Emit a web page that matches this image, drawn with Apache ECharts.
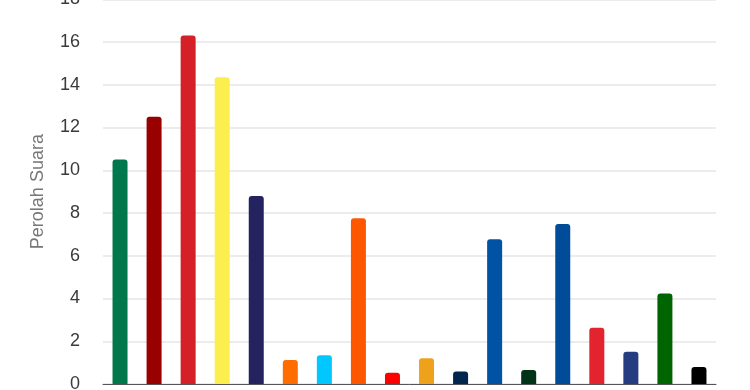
<!DOCTYPE html>
<html>
<head>
<meta charset="utf-8">
<script src="https://cdn.jsdelivr.net/npm/echarts@6/dist/echarts.min.js"></script>
<style>html,body{margin:0;padding:0;background:#fff}#c{width:750px;height:390px}</style>
</head>
<body>
<div id="c"></div>
<script>
var categories = ["P1","P2","P3","P4","P5","P6","P7","P8","P9","P10","P11","P12","P13","P14","P15","P16","P17","P18"];
var values = [10.5, 12.5, 16.3, 14.35, 8.8, 1.12, 1.35, 7.75, 0.53, 1.2, 0.59, 6.77, 0.65, 7.48, 2.63, 1.51, 4.23, 0.8];
var colors = ["#00784b","#990000","#d42128","#fdee50","#25235f","#ff6d00","#00c8ff","#ff5700","#ff0000","#eea21b","#00264d","#0052a5","#003318","#004c99","#e3232e","#253c80","#006400","#000000"];
var yTicks = [0, 18, 2];
var yName = "Perolah Suara";

var chart = echarts.init(document.getElementById('c'), null, {renderer: 'canvas'});
chart.setOption({
  animation: false,
  grid: {left: 103, right: 34, top: -0.75, bottom: 6, containLabel: false, outerBoundsMode: 'none'},
  xAxis: {
    type: 'category',
    data: categories,
    axisLine: {show: true, lineStyle: {color: '#555', width: 1}},
    axisTick: {show: false},
    axisLabel: {show: false}
  },
  yAxis: {
    type: 'value',
    min: yTicks[0], max: yTicks[1], interval: yTicks[2],
    name: yName,
    nameLocation: 'middle',
    nameGap: 56,
    nameTextStyle: {color: '#777', fontSize: 18, fontFamily: 'Liberation Sans, Arial, sans-serif'},
    axisLine: {show: false},
    axisTick: {show: false},
    axisLabel: {color: '#3a3a3a', fontSize: 18, margin: 23, fontFamily: 'Liberation Sans, Arial, sans-serif'},
    splitLine: {lineStyle: {color: '#e6e6e6', width: 1.5}}
  },
  series: [{
    type: 'bar',
    barWidth: 15,
    data: values.map(function (v, i) {
      return {value: v, itemStyle: {color: colors[i], borderRadius: [3, 3, 0, 0]}};
    })
  }]
});
</script>
</body>
</html>
